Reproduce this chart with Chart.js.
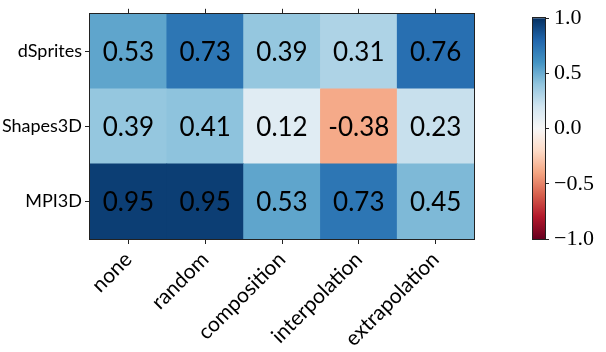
<!DOCTYPE html>
<html>
<head>
<meta charset="utf-8">
<script src="https://cdn.jsdelivr.net/npm/chart.js@4.4.1/dist/chart.umd.min.js"></script>
<style>
  html, body { margin: 0; padding: 0; background: #fff; }
  #wrap { position: relative; width: 606px; height: 352px; }
  #heat { position: absolute; left: 0; top: 0; }
  #cbar { position: absolute; left: 480px; top: 0; }
</style>
</head>
<body>
<div id="wrap">
  <canvas id="heat" width="606" height="352"></canvas>
  <canvas id="cbar" width="126" height="352"></canvas>
</div>
<script>
// categories along x, rows top to bottom
const methods = ['none', 'random', 'composition', 'interpolation', 'extrapolation'];
const datasetNames = ['dSprites', 'Shapes3D', 'MPI3D'];

// correlation values per row
const dSprites = [0.53, 0.73, 0.39, 0.31, 0.76];
const shapes3D = [0.39, 0.41, 0.12, -0.38, 0.23];
const mpi3D = [0.95, 0.95, 0.53, 0.73, 0.45];

// colour scale range and colorbar ticks
const vmin = -1;
const vmax = 1;
const cbarTicks = [-1, -0.5, 0, 0.5, 1];

// RdBu control colours (matplotlib)
const rdbu = ['#67001f', '#b2182b', '#d6604d', '#f4a582', '#fddbc7', '#f7f7f7',
              '#d1e5f0', '#92c5de', '#4393c3', '#2166ac', '#053061'];

function hexToRgb(h) {
  return [parseInt(h.slice(1, 3), 16), parseInt(h.slice(3, 5), 16), parseInt(h.slice(5, 7), 16)];
}

function cmap(v) {
  let t = (v - vmin) / (vmax - vmin);
  t = Math.max(0, Math.min(1, t));
  const pos = t * (rdbu.length - 1);
  const i = Math.min(Math.floor(pos), rdbu.length - 2);
  const f = pos - i;
  const a = hexToRgb(rdbu[i]), b = hexToRgb(rdbu[i + 1]);
  const c = a.map((x, k) => Math.round(x + (b[k] - x) * f));
  return 'rgb(' + c.join(',') + ')';
}

const rowValues = [dSprites, shapes3D, mpi3D];

// stacked from the bottom: last row first
const datasets = rowValues.slice().reverse().map((vals, i) => ({
  label: datasetNames[datasetNames.length - 1 - i],
  data: vals.map(() => 1),
  cellValues: vals,
  backgroundColor: vals.map(cmap),
  borderWidth: 0,
  barPercentage: 1,
  categoryPercentage: 1
}));

const sans = 'Lato, "Liberation Sans", sans-serif';
const serif = '"Liberation Serif", "DejaVu Serif", serif';

const cellLabels = {
  id: 'cellLabels',
  afterDatasetsDraw(chart) {
    const ctx = chart.ctx;
    ctx.save();
    ctx.font = '26px ' + sans;
    ctx.fillStyle = '#000';
    ctx.textAlign = 'center';
    ctx.textBaseline = 'middle';
    chart.data.datasets.forEach((ds, di) => {
      chart.getDatasetMeta(di).data.forEach((bar, j) => {
        const v = ds.cellValues[j];
        ctx.fillText(v.toFixed(2), bar.x, (bar.y + bar.base) / 2 + 1);
      });
    });
    ctx.restore();
  }
};

const frame = {
  id: 'frame',
  afterDraw(chart) {
    const a = chart.chartArea;
    const ctx = chart.ctx;
    ctx.save();
    ctx.strokeStyle = '#222';
    ctx.lineWidth = 1;
    ctx.strokeRect(Math.round(a.left) - 0.5, Math.round(a.top) - 0.5,
                   Math.round(a.right - a.left) + 1, Math.round(a.bottom - a.top) + 1);
    ctx.restore();
  }
};

new Chart(document.getElementById('heat').getContext('2d'), {
  type: 'bar',
  data: { labels: methods, datasets },
  options: {
    responsive: false,
    devicePixelRatio: 1,
    animation: false,
    layout: { padding: { left: 0, right: 132, top: 0, bottom: 0 } },
    plugins: { legend: { display: false }, tooltip: { enabled: false } },
    scales: {
      x: {
        stacked: true,
        position: 'bottom',
        grid: { display: true, drawOnChartArea: false, offset: false, tickLength: 5, color: '#222' },
        border: { display: false },
        ticks: { color: '#000', font: { family: sans, size: 21 }, minRotation: 45, maxRotation: 45, padding: 3 },
        afterFit(s) { s.height = 113; }
      },
      xTop: {
        type: 'category',
        labels: methods,
        position: 'top',
        grid: { display: true, drawOnChartArea: false, offset: false, tickLength: 5, color: '#222' },
        border: { display: false },
        ticks: { display: false },
        afterFit(s) { s.height = 8; }
      },
      y: {
        stacked: true,
        min: 0,
        max: datasetNames.length,
        grid: { display: true, drawOnChartArea: false, tickLength: 5, color: '#222' },
        border: { display: false },
        afterBuildTicks(s) {
          s.ticks = datasetNames.map((n, i) => ({ value: datasetNames.length - 1 - i + 0.5 }));
        },
        ticks: {
          color: '#000',
          font: { family: sans, size: 18 },
          padding: 3,
          callback(v) { return datasetNames[datasetNames.length - 1 - Math.floor(v)]; }
        },
        afterFit(s) { s.width = 90; }
      }
    }
  },
  plugins: [cellLabels, frame]
});

// colorbar
const cbarFrame = {
  id: 'cbarFrame',
  afterDraw(chart) {
    const a = chart.chartArea;
    const ctx = chart.ctx;
    ctx.save();
    ctx.strokeStyle = '#222';
    ctx.lineWidth = 1;
    ctx.strokeRect(Math.round(a.left) - 0.5, Math.round(a.top) - 0.5,
                   Math.round(a.right - a.left) + 1, Math.round(a.bottom - a.top) + 1);
    ctx.restore();
  }
};

new Chart(document.getElementById('cbar').getContext('2d'), {
  type: 'bar',
  data: {
    labels: [''],
    datasets: [{
      data: [[vmin, vmax]],
      borderWidth: 0,
      barPercentage: 1,
      categoryPercentage: 1,
      backgroundColor(c) {
        const a = c.chart.chartArea;
        if (!a) return '#fff';
        const g = c.chart.ctx.createLinearGradient(0, a.bottom, 0, a.top);
        for (let k = 0; k <= 40; k++) g.addColorStop(k / 40, cmap(vmin + (vmax - vmin) * k / 40));
        return g;
      }
    }]
  },
  options: {
    responsive: false,
    devicePixelRatio: 1,
    animation: false,
    layout: { padding: { left: 53, right: 0, top: 8, bottom: 113 } },
    plugins: { legend: { display: false }, tooltip: { enabled: false } },
    scales: {
      x: { display: false },
      y: {
        position: 'right',
        min: vmin,
        max: vmax,
        afterBuildTicks(s) { s.ticks = cbarTicks.map(v => ({ value: v })); },
        grid: { display: true, drawOnChartArea: false, tickLength: 4, color: '#222' },
        border: { display: false },
        ticks: {
          color: '#000',
          font: { family: serif, size: 22 },
          padding: 5,
          callback(v) { return (v < 0 ? '\u2212' : '') + Math.abs(v).toFixed(1); }
        },
        afterFit(s) { s.width = 61; }
      }
    }
  },
  plugins: [cbarFrame]
});
</script>
</body>
</html>
